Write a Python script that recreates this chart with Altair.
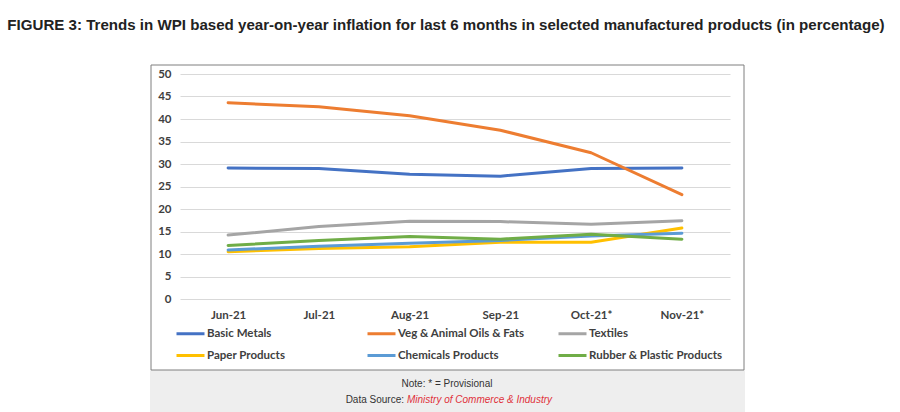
import altair as alt
import pandas as pd

# Months on the x axis (* = provisional)
months = ["Jun-21", "Jul-21", "Aug-21", "Sep-21", "Oct-21*", "Nov-21*"]

# Year-on-year WPI inflation (%) for each product group
series_names = [
    "Basic Metals",
    "Veg & Animal Oils & Fats",
    "Textiles",
    "Paper Products",
    "Chemicals Products",
    "Rubber & Plastic Products",
]
basic_metals = [29.1, 29.0, 27.7, 27.3, 29.0, 29.1]
veg_oils_fats = [43.6, 42.7, 40.7, 37.5, 32.5, 23.2]
textiles = [14.2, 16.1, 17.3, 17.2, 16.6, 17.4]
paper_products = [10.5, 11.2, 11.6, 12.6, 12.6, 15.8]
chemicals_products = [10.9, 11.7, 12.4, 13.0, 14.0, 14.6]
rubber_plastic = [11.9, 13.0, 13.9, 13.3, 14.4, 13.3]

series_colors = ["#4472C4", "#ED7D31", "#A5A5A5", "#FFC000", "#5B9BD5", "#70AD47"]
y_ticks = list(range(0, 55, 5))

title_text = ("FIGURE 3: Trends in WPI based year-on-year inflation for last 6 months "
              "in selected manufactured products (in percentage)")
note_text = "Note: * = Provisional"
source_label = "Data Source:"
source_name = "Ministry of Commerce & Industry"

all_values = [basic_metals, veg_oils_fats, textiles, paper_products,
              chemicals_products, rubber_plastic]
rows = []
for name, vals in zip(series_names, all_values):
    for i, (m, v) in enumerate(zip(months, vals)):
        rows.append({"Month": m, "idx": i, "Series": name, "Value": v})
df = pd.DataFrame(rows)

one = pd.DataFrame({"k": [0]})
W, H = 550, 225
LABEL_FONT = "Lato"
TEXT_COLOR = "#404040"

# Grey footer panel and the framed chart box
footer = alt.Chart(one).mark_rect(fill="#eeeeee").encode(
    x=alt.value(-30), x2=alt.value(565), y=alt.value(296), y2=alt.value(340)
)
frame = alt.Chart(one).mark_rect(filled=False, stroke="#7f7f7f", strokeWidth=1).encode(
    x=alt.value(-29), x2=alt.value(564), y=alt.value(-9), y2=alt.value(296)
)

lines = alt.Chart(df).mark_line(strokeWidth=3, strokeCap="round", strokeJoin="round").encode(
    x=alt.X("Month:N", sort=months,
            scale=alt.Scale(type="point", padding=0.53),
            axis=alt.Axis(title=None, domain=False, ticks=False, grid=False,
                          labelAngle=0, labelFont=LABEL_FONT, labelFontWeight="bold",
                          labelFontSize=11.5, labelColor=TEXT_COLOR, labelPadding=10)),
    y=alt.Y("Value:Q",
            scale=alt.Scale(domain=[0, 50], nice=False),
            axis=alt.Axis(title=None, values=y_ticks, domain=False, ticks=False,
                          gridColor="#d9d9d9", gridWidth=1,
                          labelFont=LABEL_FONT, labelFontWeight="bold",
                          labelFontSize=11.5, labelColor=TEXT_COLOR, labelPadding=9)),
    color=alt.Color("Series:N", sort=series_names,
                    scale=alt.Scale(domain=series_names, range=series_colors),
                    legend=alt.Legend(title=None, orient="none", legendX=-5, legendY=244,
                                      direction="horizontal",
                                      columns=3, gridAlign="all", columnPadding=20,
                                      rowPadding=-12, padding=0,
                                      symbolType="stroke", symbolSize=784,
                                      symbolStrokeWidth=3, labelOffset=1,
                                      labelFont=LABEL_FONT, labelFontWeight="bold",
                                      labelFontSize=11.5, labelColor=TEXT_COLOR)),
    order=alt.Order("idx:Q"),
)

title = alt.Chart(one).mark_text(
    text=title_text, font="Liberation Sans", fontWeight="bold", fontSize=15.1,
    color="#222222", align="center", baseline="middle"
).encode(x=alt.value(266), y=alt.value(-49))

note = alt.Chart(one).mark_text(
    text=note_text, font="Liberation Sans", fontSize=10, color="#333333",
    align="center", baseline="middle"
).encode(x=alt.value(267), y=alt.value(310))

src_label = alt.Chart(one).mark_text(
    text=source_label, font="Liberation Sans", fontSize=10, color="#333333",
    align="right", baseline="middle"
).encode(x=alt.value(224), y=alt.value(326))

src_name = alt.Chart(one).mark_text(
    text=source_name, font="Liberation Sans", fontSize=10, fontStyle="italic",
    color="#e0303a", align="left", baseline="middle"
).encode(x=alt.value(227), y=alt.value(326))

chart = alt.layer(footer, frame, lines, title, note, src_label, src_name).properties(
    width=W, height=H,
    autosize=alt.AutoSizeParams(type="none"),
    padding={"left": 180, "top": 74, "right": 900 - 180 - W, "bottom": 412 - 74 - H},
    background="white",
).configure_view(stroke=None)

chart.save("out.html", embed_options={"renderer": "svg", "actions": False})
